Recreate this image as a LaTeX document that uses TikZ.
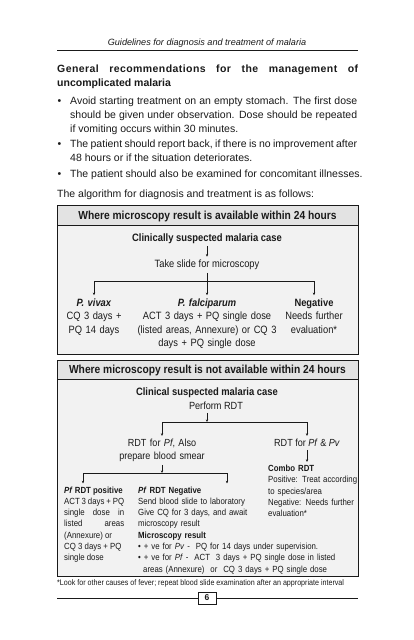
\documentclass[tikz,border=0pt]{standalone}
\usepackage{fontspec}
\setmainfont{Liberation Sans}
\newfontfamily\narrowsf[FakeStretch=0.88]{Liberation Sans}
\usetikzlibrary{arrows.meta}
\definecolor{boxfill}{HTML}{F2F2F2}
\definecolor{barfill}{HTML}{E3E3E3}
\definecolor{ink}{HTML}{1A1A1A}

\begin{document}
\begin{tikzpicture}[x=1pt,y=-1pt,
  body/.style={inner sep=0pt,text=ink,font=\fontsize{10.5}{14.2}\selectfont},
  boxhead/.style={inner sep=0pt,text=ink,font=\narrowsf\bfseries\fontsize{11.65}{13}\selectfont},
  boxtxt/.style={inner xsep=0pt,inner ysep=3pt,align=center,text=ink,font=\narrowsf\fontsize{10.6}{13.5}\selectfont},
  boxbold/.style={boxtxt,font=\narrowsf\bfseries\fontsize{10.7}{13.5}\selectfont},
  smalltxt/.style={inner xsep=0pt,inner ysep=3pt,text=ink,font=\narrowsf\fontsize{8.9}{11.3}\selectfont},
  arr/.style={draw=ink,line width=0.6pt,-{Stealth[length=2.6pt,width=2.4pt]}},
  link/.style={draw=ink,line width=0.6pt},
  frame/.style={draw=ink,line width=0.9pt}]

\useasboundingbox[fill=white] (0,0) rectangle (414,640);

\node[body,anchor=base,font=\itshape\fontsize{9.1}{11}\selectfont] (runhead) at (207,45) {Guidelines for diagnosis and treatment of malaria};
\draw[ink,line width=0.8pt] (57,50) -- (358,50);

\node[body,anchor=base west,text width=301pt,align=justify,font=\bfseries\fontsize{10.5}{14}\selectfont] (genhead) at (57,72)
  {{\addfontfeature{LetterSpace=4}General recommendations for the management of}\linebreak uncomplicated malaria};

\node[body,anchor=base] (dot1) at (59.5,104) {\textbullet};
\node[body,anchor=base west,text width=287pt,align=justify] (tip1) at (70,104)
  {Avoid starting treatment on an empty stomach. The first dose\linebreak should be given under observation. Dose should be repeated\linebreak if vomiting occurs within 30 minutes.};
\node[body,anchor=base] (dot2) at (59.5,147.5) {\textbullet};
\node[body,anchor=base west,text width=287pt,align=justify] (tip2) at (70,147.5)
  {The patient should report back, if there is no improvement after\linebreak 48 hours or if the situation deteriorates.};
\node[body,anchor=base] (dot3) at (59.5,177.5) {\textbullet};
\node[body,anchor=base west] (tip3) at (70,177.5) {The patient should also be examined for concomitant illnesses.};
\node[body,anchor=base west] (algo) at (57,197.5) {The algorithm for diagnosis and treatment is as follows:};

\draw[frame,fill=boxfill] (57,205) rectangle (358,354);
\draw[frame,fill=barfill] (57,205) rectangle (358,225);
\node[boxhead,anchor=base] (head1) at (207.5,219.5) {Where microscopy result is available within 24 hours};

\node[boxbold,anchor=base] (clin1) at (207,241) {Clinically suspected malaria case};
\node[boxtxt,anchor=base] (slide) at (207,267.5) {Take slide for microscopy};
\node[boxtxt,anchor=base,text width=64pt] (vivax) at (94,306) {\textbf{\textit{P. vivax}}\\CQ 3 days +\\PQ 14 days};
\node[boxtxt,anchor=base,text width=160pt] (falci) at (207,306) {\textbf{\textit{P. falciparum}}\\ACT 3 days + PQ single dose\\(listed areas, Annexure) or CQ 3\\days + PQ single dose};
\node[boxtxt,anchor=base,text width=70pt] (negat) at (314,306) {\textbf{Negative}\\Needs further\\evaluation*};
\coordinate (fork1) at (207,281);

\draw[arr] (clin1) -- (slide);
\draw[link] (slide) -- (fork1);
\draw[link] (fork1 -| vivax) -- (fork1 -| negat);
\draw[arr] (fork1 -| vivax) -- (vivax);
\draw[arr] (fork1) -- (falci);
\draw[arr] (fork1 -| negat) -- (negat);

\draw[frame,fill=boxfill] (57,360) rectangle (358,576);
\draw[frame,fill=barfill] (57,360) rectangle (358,379);
\node[boxhead,anchor=base] (head2) at (207.5,373.5) {Where microscopy result is not available within 24 hours};

\node[boxbold,anchor=base] (clin2) at (207,395.5) {Clinical suspected malaria case};
\node[boxtxt,anchor=base,font=\narrowsf\fontsize{10.4}{13}\selectfont] (perform) at (216,409.5) {Perform RDT};
\node[boxtxt,anchor=base,text width=96pt,font=\narrowsf\fontsize{10.3}{13}\selectfont] (rdtpf) at (162,446.5) {RDT for \textit{Pf}, Also\\prepare blood smear};
\node[boxtxt,anchor=base,font=\narrowsf\fontsize{10.3}{13}\selectfont] (rdtpv) at (307,446.5) {RDT for \textit{Pf} \& \textit{Pv}};
\coordinate (fork2) at (207,422);
\coordinate (fork3) at (162,473);
\coordinate (fork3l) at (83,473);
\coordinate (fork3r) at (227,473);

\node[smalltxt,anchor=base west,text width=90pt,align=left] (combo) at (268,471.5)
  {\textbf{Combo RDT}\\Positive: Treat according\\to species/area\\Negative: Needs further\\evaluation*};
\node[smalltxt,anchor=base west,text width=60pt,align=justify] (pfpos) at (64,493)
  {\textbf{\textit{Pf} RDT positive}\\ACT 3 days + PQ\linebreak single dose in\linebreak listed areas\linebreak (Annexure) or\\CQ 3 days + PQ\\single dose};
\node[smalltxt,anchor=base west,text width=218pt,align=left] (pfneg) at (138,493)
  {\textbf{\textit{Pf} RDT Negative}\\Send blood slide to laboratory\\Give CQ for 3 days, and await\\microscopy result\\\textbf{Microscopy result}\\
   \textbullet\ + ve for \textit{Pv} -\ \ PQ for 14 days under supervision.\\
   \textbullet\ + ve for \textit{Pf} -\ \ ACT\ \ 3 days + PQ single dose in listed\\
   \hspace*{5pt}areas (Annexure)\ \ or\ \ CQ 3 days + PQ single dose};

\draw[arr] (fork2 |- perform.south) -- (fork2);
\draw[link] (fork2 -| rdtpf) -- (fork2 -| rdtpv);
\draw[arr] (fork2 -| rdtpf) -- (rdtpf);
\draw[arr] (fork2 -| rdtpv) -- (rdtpv);
\draw[arr] (rdtpv) -- (rdtpv |- combo.north);
\draw[arr] (rdtpf) -- (fork3);
\draw[link] (fork3l) -- (fork3r);
\draw[arr] (fork3l) -- (fork3l |- pfpos.north);
\draw[arr] (fork3r) -- (fork3r |- pfneg.north);

\node[body,anchor=base west,font=\narrowsf\fontsize{8.1}{10}\selectfont] (fnote) at (57,585)
  {*Look for other causes of fever; repeat blood slide examination after an appropriate interval};

\node[draw=ink,line width=0.8pt,minimum width=18pt,minimum height=12pt,inner sep=0pt,text=ink,font=\bfseries\fontsize{8.5}{10}\selectfont] (pgno) at (207,598) {6};
\coordinate (ruleL) at (57,598);
\coordinate (ruleR) at (358,598);
\draw[ink,line width=0.8pt] (ruleL) -- (pgno);
\draw[ink,line width=0.8pt] (pgno) -- (ruleR);
\end{tikzpicture}
\end{document}
